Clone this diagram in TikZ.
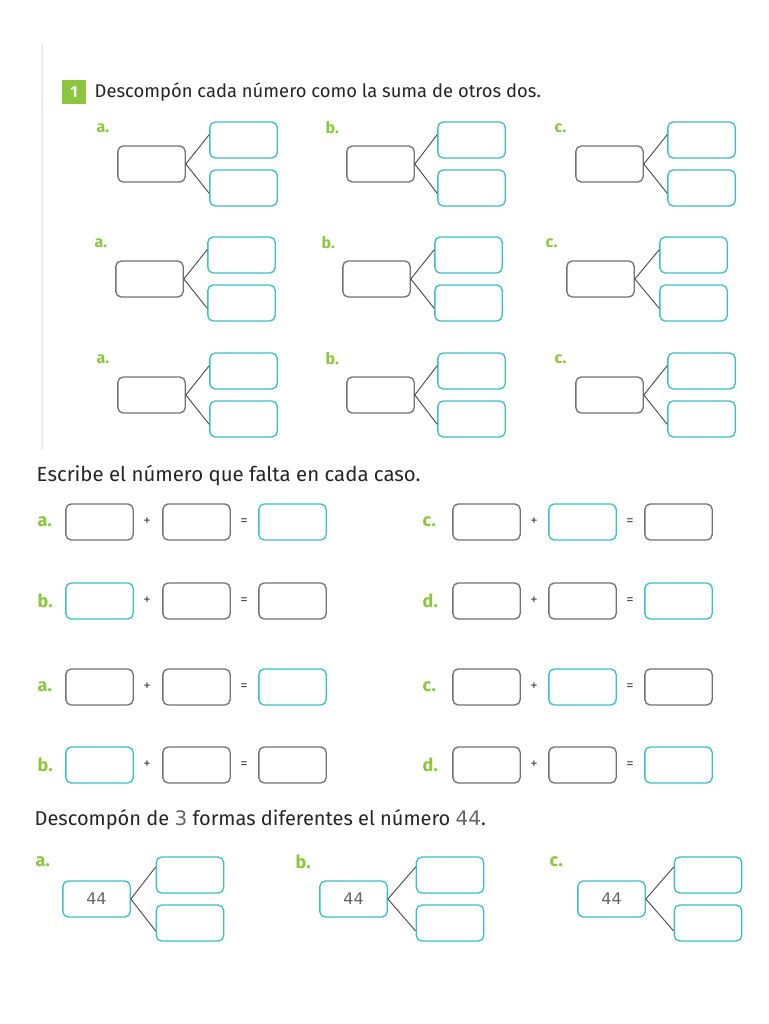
\documentclass[tikz,border=0pt]{standalone}
\usepackage{fontspec}
\setmainfont{Fira Sans}
\newfontfamily\hand{DejaVu Sans}
\begin{document}
\begin{tikzpicture}[x=0.75pt,y=-0.75pt,
  gbox/.style={draw=black!55,line width=1pt,rounded corners=4pt,minimum width=50.5pt,minimum height=27pt,inner sep=0pt},
  tbox/.style={gbox,draw=tealc},
  lab/.style={text=greenc,font=\bfseries\fontsize{12}{12}\selectfont,anchor=west},
  op/.style={font=\fontsize{11}{11}\selectfont,text=black!70},
  conn/.style={draw=black!70,line width=0.7pt},
  title/.style={text=black!85,anchor=west}]
\definecolor{tealc}{HTML}{3EBFC4}
\definecolor{greenc}{HTML}{8CC63F}
\useasboundingbox (0,0) rectangle (768,1024);
\fill[white] (0,0) rectangle (768,1024);
\draw[black!8,line width=1pt] (42,45) -- (42,450);
\node[fill=greenc,text=white,minimum size=18pt,inner sep=0pt,font=\bfseries\fontsize{12}{12}\selectfont] (one) at (74,92) {1};
\node[title,font=\fontsize{13.8}{15}\selectfont] (t1) at (90,92) {Descompón cada número como la suma de otros dos.};
% decomposition grid
\foreach \r/\y/\la/\ra/\lb/\rb/\lc/\rc in {1/164/118/210/347/438/576/668, 2/279/116/208/343/435/567/660, 3/395/118/210/347/438/576/668}{
  \foreach \c/\L/\R/\t in {a/\la/\ra/a., b/\lb/\rb/b., c/\lc/\rc/c.}{
    \node[lab] (lab\r\c) at (\L-26,\y-36) {\t};
    \node[gbox] (L\r\c) at (\L+33.5,\y) {};
    \node[tbox] (U\r\c) at (\R+33.5,\y-24) {};
    \node[tbox] (D\r\c) at (\R+33.5,\y+24) {};
    \draw[conn] (L\r\c.east) -- ([yshift=4]U\r\c.west);
    \draw[conn] (L\r\c.east) -- ([yshift=-4]D\r\c.west);
  }
}
\node[title,font=\fontsize{15.3}{16}\selectfont] (t2) at (32,475) {Escribe el número que falta en cada caso.};
% additions
\foreach \n/\y/\lt/\ca/\cb/\cc/\rt/\da/\db/\dc in {1/522/a./gbox/gbox/tbox/c./gbox/tbox/gbox, 2/601/b./tbox/gbox/gbox/d./gbox/gbox/tbox, 3/687/a./gbox/gbox/tbox/c./gbox/tbox/gbox, 4/765/b./tbox/gbox/gbox/d./gbox/gbox/tbox}{
  \node[lab,font=\bfseries\fontsize{13.5}{13}\selectfont] (al\n) at (33,\y) {\lt};
  \node[\ca] (A\n) at (99.5,\y) {};
  \node[op] (p\n) at (147,\y) {+};
  \node[\cb] (B\n) at (196.5,\y) {};
  \node[op] (e\n) at (244,\y) {=};
  \node[\cc] (C\n) at (292.5,\y) {};
  \node[lab,font=\bfseries\fontsize{13.5}{13}\selectfont] (ar\n) at (418,\y) {\rt};
  \node[\da] (D\n) at (486.5,\y) {};
  \node[op] (q\n) at (534,\y) {+};
  \node[\db] (E\n) at (582.5,\y) {};
  \node[op] (f\n) at (630,\y) {=};
  \node[\dc] (F\n) at (678.5,\y) {};
}
\node[title,font=\fontsize{15}{16}\selectfont] (t3) at (30,820) {Descompón de {\hand\color{black!60}3} formas diferentes el número {\hand\color{black!60}44}.};
\foreach \c/\lx/\L/\R/\t in {a/31/62/155/a., b/291/319/415/b., c/545/577/673/c.}{
  \node[lab,font=\bfseries\fontsize{13.5}{13}\selectfont] (bl\c) at (\lx,862) {\t};
  \node[tbox,text=black!60,font=\hand\fontsize{12}{12}\selectfont] (BL\c) at (\L+34.5,899) {44};
  \node[tbox] (BU\c) at (\R+35,875) {};
  \node[tbox] (BD\c) at (\R+35,923) {};
  \draw[conn] (BL\c.east) -- ([yshift=6]BU\c.west);
  \draw[conn] (BL\c.east) -- ([yshift=-6]BD\c.west);
}
\end{tikzpicture}
\end{document}
